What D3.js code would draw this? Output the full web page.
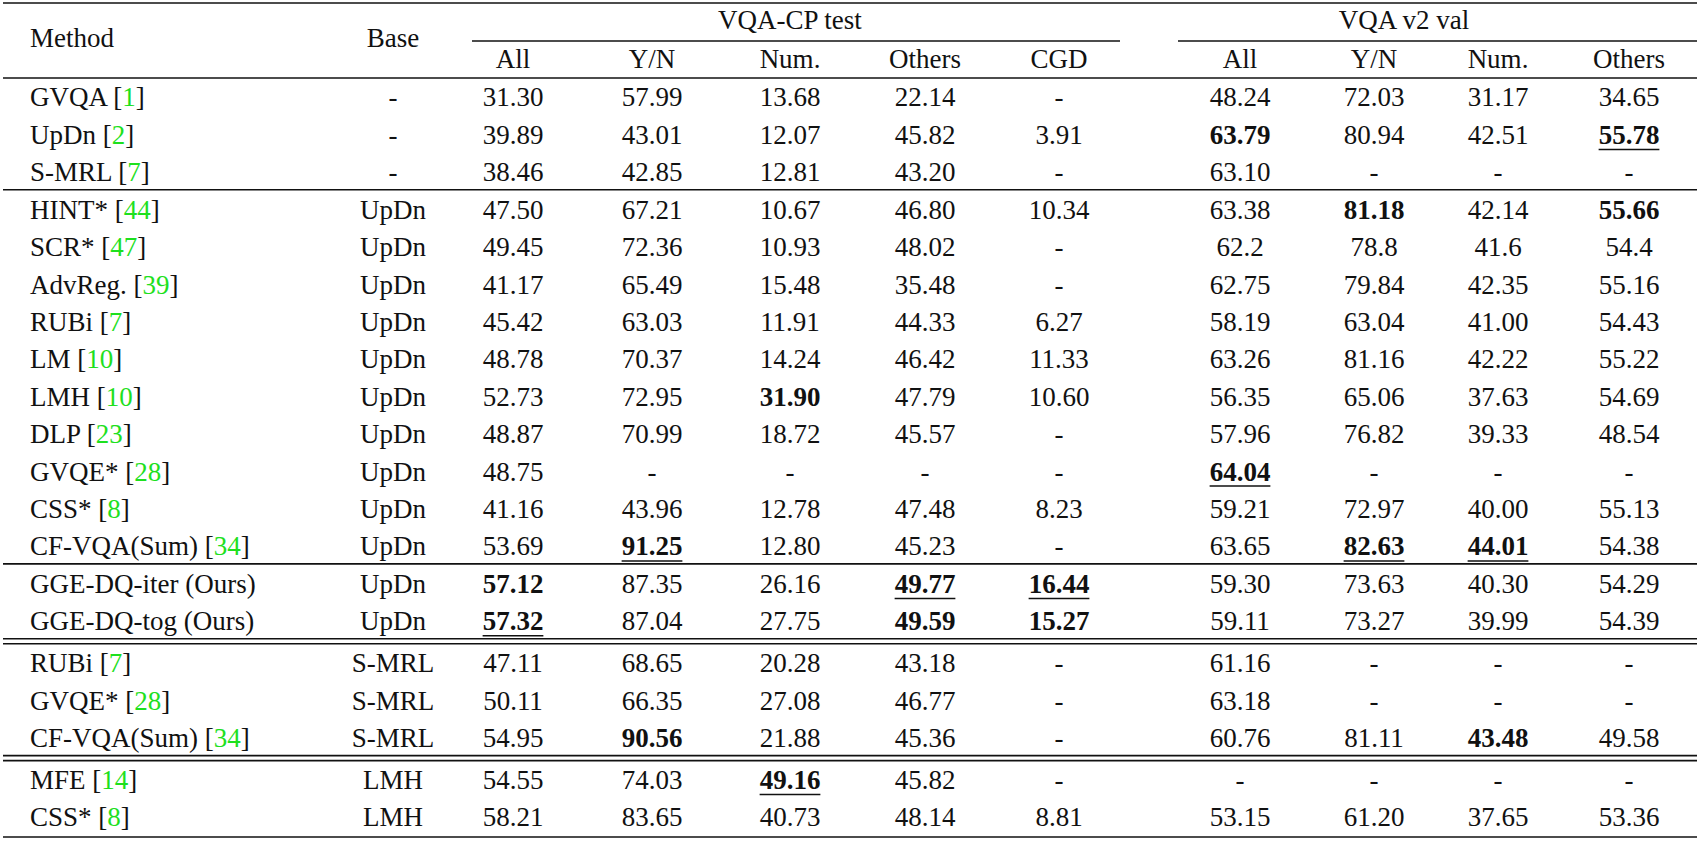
<!DOCTYPE html>
<html><head><meta charset="utf-8">
<script src="https://cdn.jsdelivr.net/npm/d3@7"></script>
<style>body{margin:0;background:#fff}text{font-family:"Liberation Serif","Times New Roman",serif;font-size:27px;fill:#111}</style>
</head><body><svg id="t" width="1700" height="863"></svg>
<script>
// "!" = bold, "!_" = bold + underline
const methods = [
  ["GVQA", "1"], ["UpDn", "2"], ["S-MRL", "7"],
  ["HINT*", "44"], ["SCR*", "47"], ["AdvReg.", "39"], ["RUBi", "7"], ["LM", "10"], ["LMH", "10"],
  ["DLP", "23"], ["GVQE*", "28"], ["CSS*", "8"], ["CF-VQA(Sum)", "34"],
  ["GGE-DQ-iter (Ours)", null], ["GGE-DQ-tog (Ours)", null],
  ["RUBi", "7"], ["GVQE*", "28"], ["CF-VQA(Sum)", "34"],
  ["MFE", "14"], ["CSS*", "8"]
];
const bases = ["-","-","-","UpDn","UpDn","UpDn","UpDn","UpDn","UpDn","UpDn","UpDn","UpDn","UpDn","UpDn","UpDn","S-MRL","S-MRL","S-MRL","LMH","LMH"];
const vqacp = [
  ["31.30","57.99","13.68","22.14","-"],
  ["39.89","43.01","12.07","45.82","3.91"],
  ["38.46","42.85","12.81","43.20","-"],
  ["47.50","67.21","10.67","46.80","10.34"],
  ["49.45","72.36","10.93","48.02","-"],
  ["41.17","65.49","15.48","35.48","-"],
  ["45.42","63.03","11.91","44.33","6.27"],
  ["48.78","70.37","14.24","46.42","11.33"],
  ["52.73","72.95","!31.90","47.79","10.60"],
  ["48.87","70.99","18.72","45.57","-"],
  ["48.75","-","-","-","-"],
  ["41.16","43.96","12.78","47.48","8.23"],
  ["53.69","!_91.25","12.80","45.23","-"],
  ["!57.12","87.35","26.16","!_49.77","!_16.44"],
  ["!_57.32","87.04","27.75","!49.59","!15.27"],
  ["47.11","68.65","20.28","43.18","-"],
  ["50.11","66.35","27.08","46.77","-"],
  ["54.95","!90.56","21.88","45.36","-"],
  ["54.55","74.03","!_49.16","45.82","-"],
  ["58.21","83.65","40.73","48.14","8.81"]
];
const vqav2 = [
  ["48.24","72.03","31.17","34.65"],
  ["!63.79","80.94","42.51","!_55.78"],
  ["63.10","-","-","-"],
  ["63.38","!81.18","42.14","!55.66"],
  ["62.2","78.8","41.6","54.4"],
  ["62.75","79.84","42.35","55.16"],
  ["58.19","63.04","41.00","54.43"],
  ["63.26","81.16","42.22","55.22"],
  ["56.35","65.06","37.63","54.69"],
  ["57.96","76.82","39.33","48.54"],
  ["!_64.04","-","-","-"],
  ["59.21","72.97","40.00","55.13"],
  ["63.65","!_82.63","!_44.01","54.38"],
  ["59.30","73.63","40.30","54.29"],
  ["59.11","73.27","39.99","54.39"],
  ["61.16","-","-","-"],
  ["63.18","-","-","-"],
  ["60.76","81.11","!43.48","49.58"],
  ["-","-","-","-"],
  ["53.15","61.20","37.65","53.36"]
];
const cpHeads = ["All","Y/N","Num.","Others","CGD"];
const v2Heads = ["All","Y/N","Num.","Others"];
// rule after these row indices: 1 = single, 2 = double
const ruleAfter = {2:1, 12:1, 14:2, 17:2};

const svg = d3.select("#t");
const colX = [513, 652, 790, 925, 1059, 1240, 1374, 1498, 1629];
const rowStep = 37.4;

// row y positions
const rowY = [];
let y = 97;
const rules = [{y:3},{y:78}];
methods.forEach((m, i) => {
  rowY.push(y);
  if (ruleAfter[i] === 1) { rules.push({y: y + 18}); y += 37.5; }
  else if (ruleAfter[i] === 2) { rules.push({y: y + 18}, {y: y + 23}); y += 42; }
  else y += rowStep;
});
rules.push({y: rowY[rowY.length-1] + 20});

svg.selectAll("line.rule").data(rules).join("line")
  .attr("x1", 3).attr("x2", 1697).attr("y1", d => d.y).attr("y2", d => d.y)
  .attr("stroke", "#111").attr("stroke-width", 1.6);

function cell(x, y, s, anchor) {
  let bold = false, under = false;
  if (s.startsWith("!_")) { bold = under = true; s = s.slice(2); }
  else if (s.startsWith("!")) { bold = true; s = s.slice(1); }
  const t = svg.append("text").attr("x", x).attr("y", y).attr("dy", "0.35em")
    .attr("text-anchor", anchor || "middle").attr("font-weight", bold ? "bold" : null).text(s);
  if (under) {
    const b = t.node().getBBox();
    svg.append("line").attr("x1", b.x).attr("x2", b.x + b.width)
      .attr("y1", y + 15).attr("y2", y + 15).attr("stroke", "#111").attr("stroke-width", 1.5);
  }
}

// header
cell(30, 38, "Method", "start");
cell(393, 38, "Base");
cell(790, 20, "VQA-CP test");
cell(1404, 20, "VQA v2 val");
svg.append("line").attr("x1", 472).attr("x2", 1120).attr("y1", 41).attr("y2", 41).attr("stroke", "#111").attr("stroke-width", 1.4);
svg.append("line").attr("x1", 1178).attr("x2", 1697).attr("y1", 41).attr("y2", 41).attr("stroke", "#111").attr("stroke-width", 1.4);
cpHeads.concat(v2Heads).forEach((h, j) => cell(colX[j], 59, h));

// body
methods.forEach((m, i) => {
  const t = svg.append("text").attr("x", 30).attr("y", rowY[i]).attr("dy", "0.35em");
  t.append("tspan").text(m[0]);
  if (m[1]) {
    t.append("tspan").text(" [");
    t.append("tspan").style("fill", "#1ee01e").text(m[1]);
    t.append("tspan").text("]");
  }
  cell(393, rowY[i], bases[i]);
  vqacp[i].concat(vqav2[i]).forEach((v, j) => cell(colX[j], rowY[i], v));
});
</script></body></html>
